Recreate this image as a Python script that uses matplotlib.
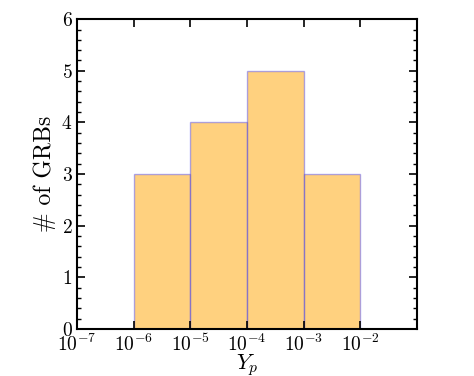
import numpy as np
import matplotlib
matplotlib.use('Agg')
import matplotlib.pyplot as plt
from matplotlib.ticker import MultipleLocator, NullLocator

plt.rcParams['font.family'] = 'serif'
plt.rcParams['font.serif'] = ['cmr10', 'DejaVu Serif']
plt.rcParams['mathtext.fontset'] = 'cm'
plt.rcParams['axes.formatter.use_mathtext'] = True
plt.rcParams['axes.unicode_minus'] = False

# Histogram data: bin edges in Y_p and number of GRBs per bin
bin_edges = [1e-6, 1e-5, 1e-4, 1e-3, 1e-2]
grb_counts = [3, 4, 5, 3]
x_ticks = [1e-7, 1e-6, 1e-5, 1e-4, 1e-3, 1e-2]

fig = plt.figure(figsize=(4.74, 3.76), dpi=100)
ax = fig.add_axes([0.162, 0.125, 0.718, 0.824])

ax.hist(bin_edges[:-1], bins=bin_edges, weights=grb_counts,
        facecolor=(1.0, 0.647, 0.0, 0.5), edgecolor=(0.2, 0.2, 1.0, 0.4),
        linewidth=1)

ax.set_xscale('log')
ax.set_xlim(1e-7, 1e-1)
ax.set_ylim(0, 6)
ax.set_xticks(x_ticks)
ax.xaxis.set_minor_locator(NullLocator())
ax.yaxis.set_major_locator(MultipleLocator(1))
ax.yaxis.set_minor_locator(MultipleLocator(0.2))

ax.tick_params(which='both', direction='in', top=True, right=True, labelsize=14)
ax.tick_params(which='major', length=6, width=1.2, pad=3)
ax.tick_params(which='minor', length=3, width=1)
for sp in ax.spines.values():
    sp.set_linewidth(1.5)

ax.set_xlabel(r'$Y_p$', fontsize=16)
ax.xaxis.set_label_coords(0.5, -0.075)
ax.set_ylabel(r'# of GRBs', fontsize=17, labelpad=4)

plt.savefig('out.png', dpi=100)
plt.close()
